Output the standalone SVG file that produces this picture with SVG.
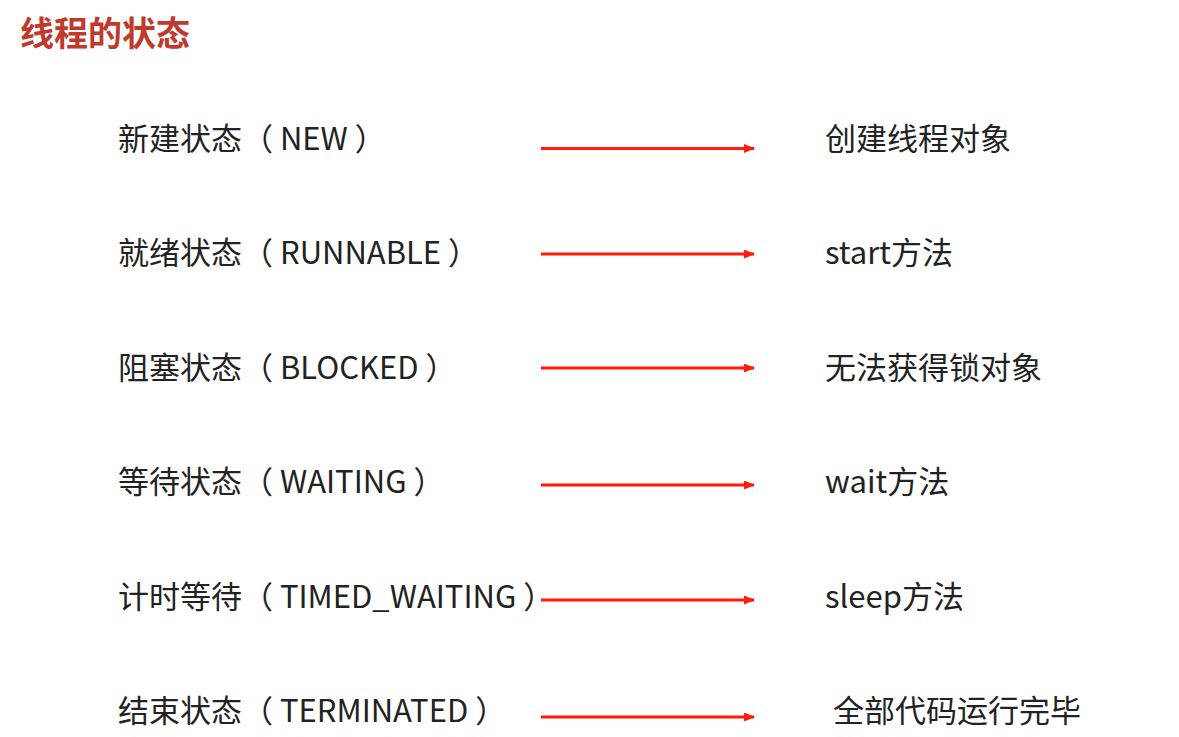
<svg xmlns="http://www.w3.org/2000/svg" width="1179" height="737" viewBox="0 0 1179 737">
<defs>
<style>
.t{font-family:"Noto Sans CJK SC","Noto Sans",sans-serif;font-size:31px;fill:#222}
.h{font-family:"Noto Sans CJK SC",sans-serif;font-size:34px;font-weight:bold;fill:#c0392b}
.c{stroke:#ff1a0a;stroke-width:3;fill:none;marker-end:url(#a)}
</style>
<marker id="a" markerWidth="11" markerHeight="9" refX="10" refY="4.5" orient="auto" markerUnits="userSpaceOnUse"><path d="M0,0L11,4.5L0,9Z" fill="#ff1a0a"/></marker>
</defs>
<rect width="1179" height="737" fill="#fff"/>
<text class="h" x="20" y="46">线程的状态</text>
<g id="n1"><text class="t" x="118" y="150">新建状态（ NEW ）</text><text class="t" x="825" y="150">创建线程对象</text></g>
<g id="n2"><text class="t" x="118" y="264">就绪状态（ RUNNABLE ）</text><text class="t" x="825" y="264">start方法</text></g>
<g id="n3"><text class="t" x="118" y="379">阻塞状态（ BLOCKED ）</text><text class="t" x="825" y="379">无法获得锁对象</text></g>
<g id="n4"><text class="t" x="118" y="493">等待状态（ WAITING ）</text><text class="t" x="825" y="493">wait方法</text></g>
<g id="n5"><text class="t" x="118" y="608">计时等待（ TIMED_WAITING ）</text><text class="t" x="825" y="608">sleep方法</text></g>
<g id="n6"><text class="t" x="118" y="722">结束状态（ TERMINATED ）</text><text class="t" x="833" y="722">全部代码运行完毕</text></g>
<g id="connectors">
<line class="c" x1="541" y1="148.5" x2="754" y2="148.5"/>
<line class="c" x1="541" y1="254" x2="754" y2="254"/>
<line class="c" x1="541" y1="368" x2="754" y2="368"/>
<line class="c" x1="541" y1="485" x2="754" y2="485"/>
<line class="c" x1="541" y1="600" x2="754" y2="600"/>
<line class="c" x1="541" y1="717" x2="754" y2="717"/>
</g>
</svg>
